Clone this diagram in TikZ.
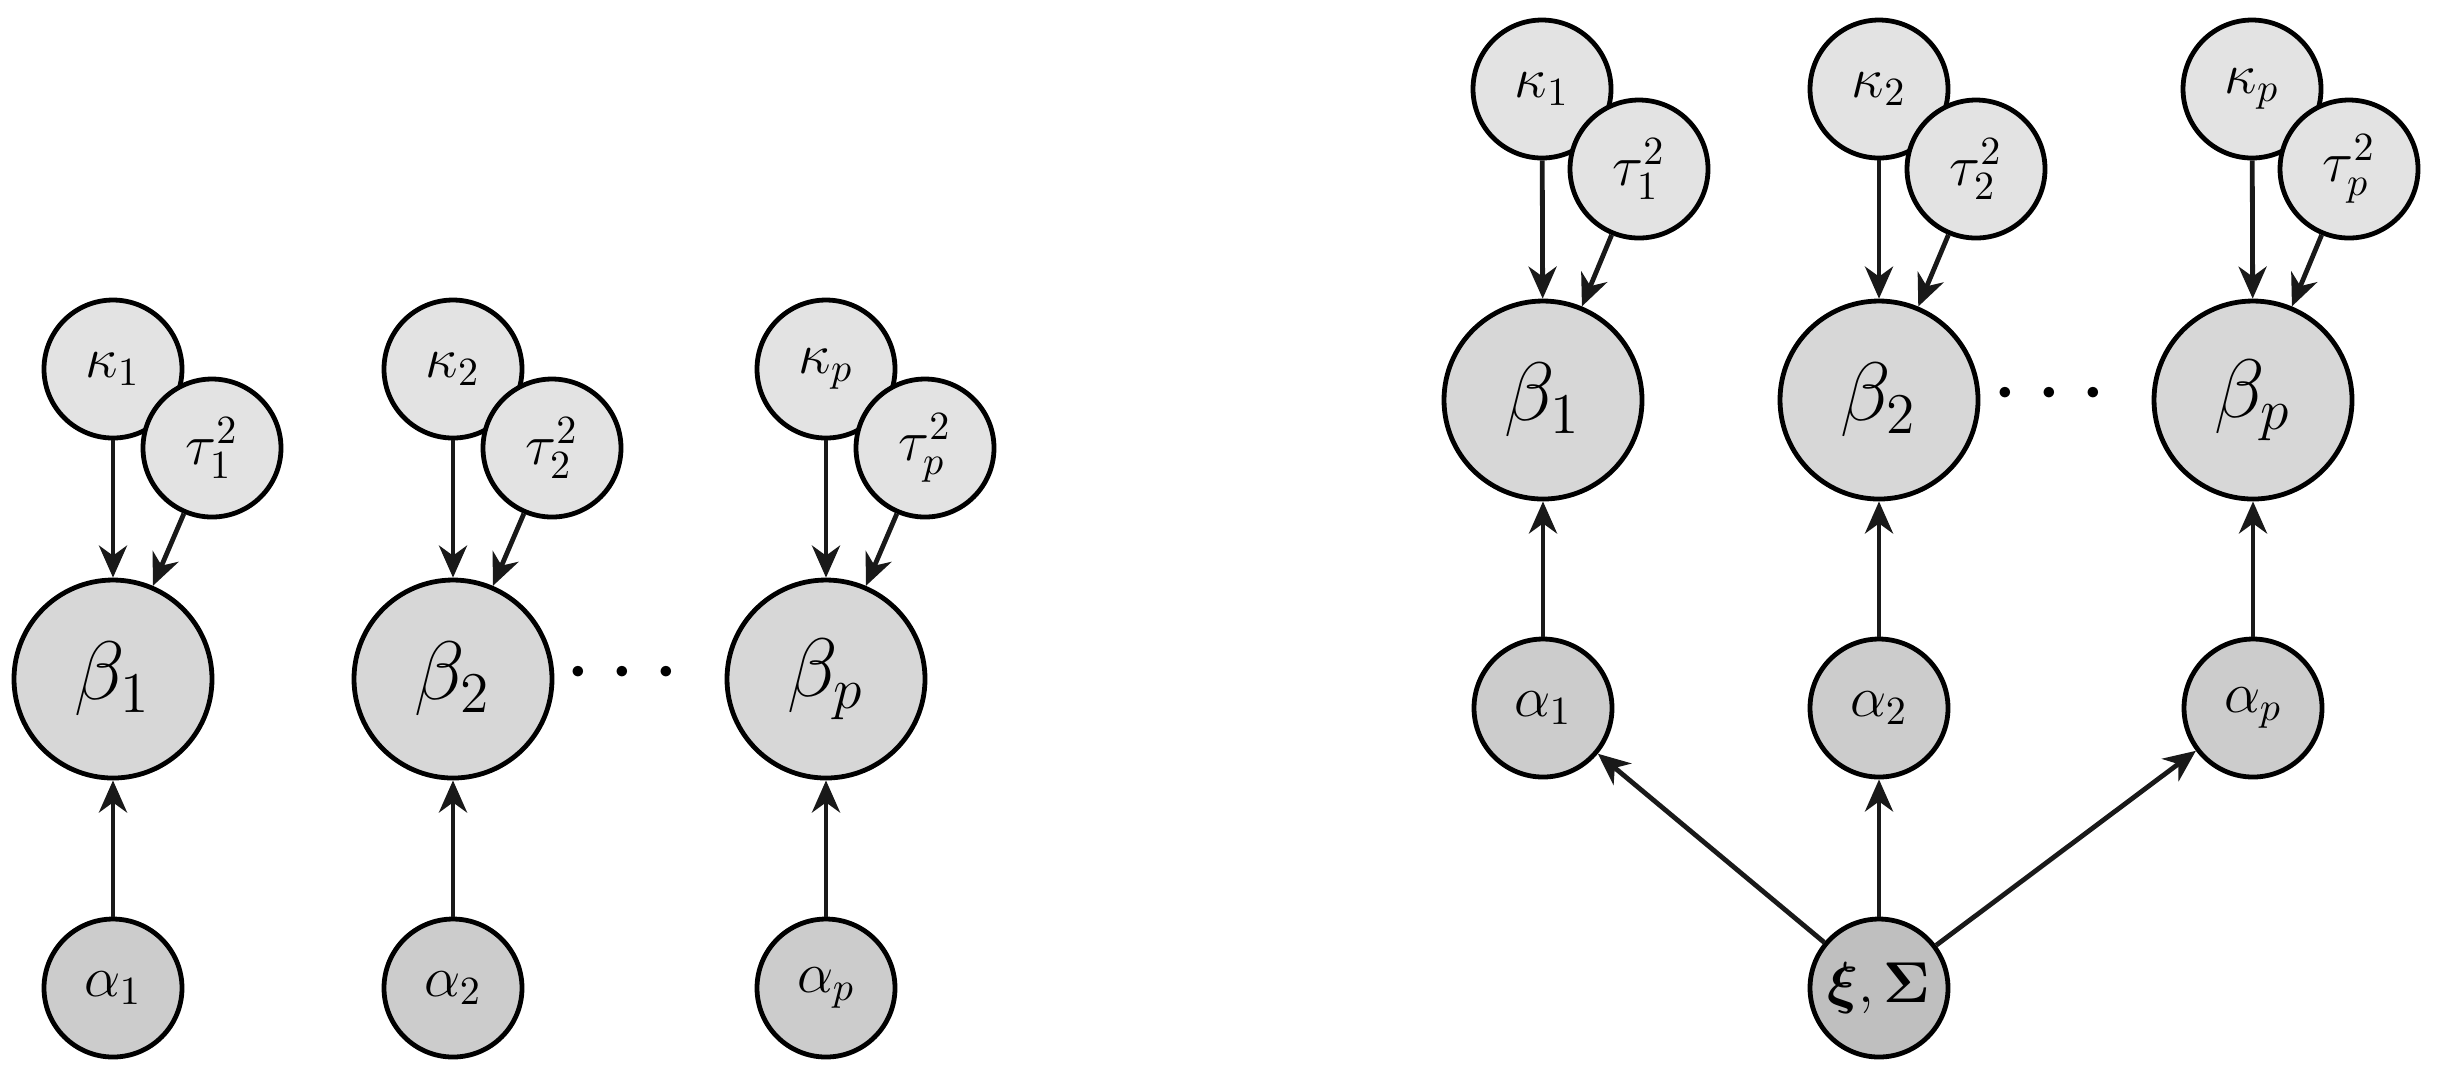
\documentclass[tikz,border=0pt]{standalone}
\usepackage{amsmath,bm}
\usetikzlibrary{arrows.meta}
\definecolor{hypfill}{gray}{0.89}
\definecolor{coeffill}{gray}{0.845}
\definecolor{locfill}{gray}{0.80}
\definecolor{topfill}{gray}{0.75}
\tikzset{
  base/.style={circle, draw=black, line width=1.2pt, inner sep=0pt},
  hyp/.style={base, fill=hypfill, minimum size=34.5pt, font=\fontsize{14.5}{17}\selectfont},
  coef/.style={base, fill=coeffill, minimum size=49.5pt, font=\fontsize{21.5}{26}\selectfont},
  loc/.style={base, fill=locfill, minimum size=34.5pt, font=\fontsize{14.5}{17}\selectfont},
  topn/.style={base, fill=topfill, minimum size=34.5pt, font=\fontsize{14.5}{17}\selectfont},
  dotsn/.style={inner sep=0pt, font=\fontsize{33}{40}\selectfont},
  edge/.style={-{Stealth[length=8pt,width=7pt,inset=2.5pt]}, line width=1.2pt, draw=black!90}
}
\begin{document}
\begin{tikzpicture}[x=0.25pt, y=-0.25pt]
\useasboundingbox (0,0) rectangle (2439,1076);
% ---------- left panel ----------
\node[coef] (Lb1) at (113,679) {$\beta_1$};
\node[coef] (Lb2) at (453,679) {$\beta_2$};
\node[coef] (Lbp) at (826,679) {$\beta_p$};
\node[hyp] (Lk1) at (113,369) {$\kappa_1$};
\node[hyp] (Lt1) at (212,448) {$\tau_1^2$};
\node[hyp] (Lk2) at (453,369) {$\kappa_2$};
\node[hyp] (Lt2) at (552,448) {$\tau_2^2$};
\node[hyp] (Lkp) at (826,369) {$\kappa_p$};
\node[hyp] (Ltp) at (925,448) {$\tau_p^2$};
\node[loc] (La1) at (113,988) {$\alpha_1$};
\node[loc] (La2) at (453,988) {$\alpha_2$};
\node[loc] (Lap) at (826,988) {$\alpha_p$};
\node[dotsn] (Ldots) at (631,674) {$\cdots$};
\foreach \i in {1,2,p}{
  \draw[edge] (Lk\i) -- (Lb\i);
  \draw[edge] (Lt\i) -- (Lb\i);
  \draw[edge] (La\i) -- (Lb\i);
}
% ---------- right panel ----------
\node[coef] (Rb1) at (1543,400) {$\beta_1$};
\node[coef] (Rb2) at (1879,400) {$\beta_2$};
\node[coef] (Rbp) at (2253,400) {$\beta_p$};
\node[hyp] (Rk1) at (1542,89) {$\kappa_1$};
\node[hyp] (Rt1) at (1639,169) {$\tau_1^2$};
\node[hyp] (Rk2) at (1879,89) {$\kappa_2$};
\node[hyp] (Rt2) at (1976,169) {$\tau_2^2$};
\node[hyp] (Rkp) at (2252,89) {$\kappa_p$};
\node[hyp] (Rtp) at (2349,169) {$\tau_p^2$};
\node[loc] (Ra1) at (1543,708) {$\alpha_1$};
\node[loc] (Ra2) at (1879,708) {$\alpha_2$};
\node[loc] (Rap) at (2253,708) {$\alpha_p$};
\node[topn] (xs) at (1879,988) {$\bm{\xi},\bm{\Sigma}$};
\node[dotsn] (Rdots) at (2058,395) {$\cdots$};
\foreach \i in {1,2,p}{
  \draw[edge] (Rk\i) -- (Rb\i);
  \draw[edge] (Rt\i) -- (Rb\i);
  \draw[edge] (Ra\i) -- (Rb\i);
  \draw[edge] (xs) -- (Ra\i);
}
\end{tikzpicture}
\end{document}
